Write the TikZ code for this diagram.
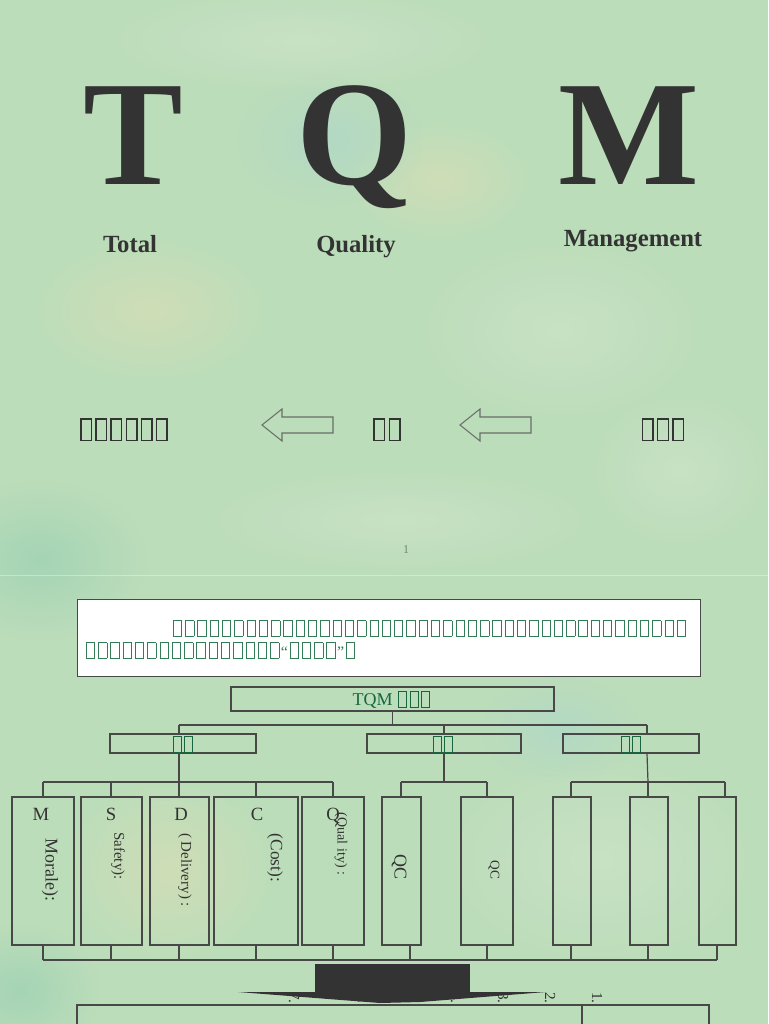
\documentclass[tikz,border=0pt]{standalone}
\usepackage{fontspec}
\setmainfont{Liberation Serif}
\usetikzlibrary{fadings}
\definecolor{bg}{RGB}{188,221,186}
\definecolor{ink}{RGB}{51,51,51}
\definecolor{gline}{RGB}{72,72,72}
\definecolor{gtext}{RGB}{24,102,64}
\definecolor{gtextl}{RGB}{50,125,85}
\definecolor{pnum}{RGB}{100,140,112}
\definecolor{arrowc}{RGB}{105,110,105}
\definecolor{pbeige}{RGB}{222,222,180}
\definecolor{pblue}{RGB}{172,214,206}
\definecolor{plight}{RGB}{210,230,204}
\definecolor{pteal}{RGB}{145,205,178}
\tikzfading[name=softblob, inner color=transparent!45, outer color=transparent!100]
% tofu box: advance, width, height, rule, depth
\newcommand\tofu[5]{\hbox to #1{\hss\lower#5\vbox{\hrule height #4 width #2\hbox to #2{\vrule width #4 height \dimexpr #3-#4*2\relax depth 0pt\hfil\vrule width #4 height \dimexpr #3-#4*2\relax depth 0pt}\hrule height #4 width #2}\hss}}
\newcommand\tA{\tofu{11.3pt}{9pt}{17pt}{1.1pt}{0pt}}
\newcommand\tB{\tofu{9.22pt}{6.9pt}{12.7pt}{0.6pt}{1.4pt}}
\newcommand\tBsix{\tB\tB\tB\tB\tB\tB}
\newcommand\tC{\tofu{8.6pt}{7pt}{12.6pt}{0.8pt}{2.2pt}}
\newcommand\bigfont{\fontsize{112}{112}\selectfont\bfseries}
\begin{document}
\begin{tikzpicture}[x=0.75pt,y=-0.75pt,
  big/.style={font=\bigfont, text=ink, anchor=base, inner sep=0},
  word/.style={font=\fontsize{18.5}{20}\selectfont\bfseries, text=ink, anchor=base, inner sep=0},
  tofurow/.style={text=ink, anchor=base, inner sep=0},
  harrow/.style={draw=arrowc, line width=0.8pt, line join=miter},
  ln/.style={draw=gline, line width=0.9pt},
  obox/.style 2 args={draw=gline, line width=0.9pt, inner sep=0, minimum width=#1*0.75pt, minimum height=#2*0.75pt},
  lbl/.style={text=ink, inner sep=0, font=\fontsize{14}{14}\selectfont, anchor=base},
  vt/.style={rotate=-90, text=ink, inner sep=0, font=\fontsize{#1}{#1}\selectfont},
  num/.style={rotate=-90, text=ink, inner sep=0, anchor=west, font=\fontsize{11.5}{11.5}\selectfont},
  grn/.style={text=gtext, inner sep=0, anchor=base},
  blob/.style={fill=#1, path fading=softblob}
]
\useasboundingbox (0,0) rectangle (768,1024);
% background
\fill[bg] (0,0) rectangle (768,1024);
\fill[blob=pbeige] (150,310) ellipse [x radius=90pt, y radius=55pt];
\fill[blob=pbeige] (440,180) ellipse [x radius=70pt, y radius=45pt];
\fill[blob=pblue] (330,140) ellipse [x radius=70pt, y radius=50pt];
\fill[blob=plight] (560,330) ellipse [x radius=110pt, y radius=70pt];
\fill[blob=plight] (300,40) ellipse [x radius=150pt, y radius=40pt];
\fill[blob=pteal] (40,560) ellipse [x radius=80pt, y radius=60pt];
\fill[blob=plight] (680,470) ellipse [x radius=70pt, y radius=60pt];
\fill[blob=pbeige] (170,870) ellipse [x radius=80pt, y radius=70pt];
\fill[blob=plight] (600,860) ellipse [x radius=120pt, y radius=80pt];
\fill[blob=pblue] (560,730) ellipse [x radius=60pt, y radius=40pt];
\fill[blob=pteal] (20,990) ellipse [x radius=60pt, y radius=50pt];
\fill[blob=plight] (400,520) ellipse [x radius=150pt, y radius=40pt];
\draw[white, opacity=0.35, line width=0.8pt] (0,575.5) -- (768,575.5);

% ---------- slide 1 ----------
\node[big] (T) at (133,184) {T};
\node[big] (Q) at (355,184) {Q};
\node[big] (M) at (629,184) {M};
\node[word] (tot) at (130,252) {Total};
\node[word] (qual) at (356,252) {Quality};
\node[word] (man) at (633,246) {Management};

\node[tofurow] (c1) at (124,441) {\tA\tA\tA\tA\tA\tA};
\node[tofurow] (c2) at (387,441) {\tA\tA};
\node[tofurow] (c3) at (663,441) {\tA\tA\tA};
\draw[harrow] (262,425) -- (282,409) -- (282,417) -- (333,417) -- (333,433) -- (282,433) -- (282,441) -- cycle;
\draw[harrow] (460,425) -- (480,409) -- (480,417) -- (531,417) -- (531,433) -- (480,433) -- (480,441) -- cycle;
\node[text=pnum, inner sep=0, font=\fontsize{9}{9}\selectfont] (pg) at (406,550) {1};

% ---------- slide 2 ----------
\node[draw=gline, line width=0.9pt, fill=white, inner sep=0, anchor=north west,
      minimum width=623*0.75pt, minimum height=77*0.75pt] (intro) at (77,599) {};
\node[grn, text=gtextl, anchor=base west, font=\fontsize{12}{14}\selectfont] (l1) at (171,635)
  {\tBsix\tBsix\tBsix\tBsix\tBsix\tBsix\tBsix};
\node[grn, text=gtextl, anchor=base west, font=\fontsize{12}{14}\selectfont] (l2) at (84,657)
  {\tBsix\tBsix\tB\tB\tB\tB“\tB\tB\tB\tB”\tB};

% org chart level 1
\node[obox={323}{24}] (tqm) at (392.5,699) {};
\node[grn, font=\fontsize{13.5}{14}\selectfont] (tqmt) at (392,705) {TQM \tC\tC\tC};
\node[obox={146}{19}] (A) at (183,743.5) {};
\node[obox={154}{19}] (B) at (444,743.5) {};
\node[obox={136}{19}] (C) at (631,743.5) {};
\node[grn] (At) at (183,750) {\tC\tC};
\node[grn] (Bt) at (443,750) {\tC\tC};
\node[grn] (Ct) at (631,750) {\tC\tC};
\coordinate (b1L) at (179,725);
\coordinate (b1R) at (647,725);
\draw[ln] (tqm.south) -- (tqm.south |- b1L);
\draw[ln] (b1L) -- (b1R);
\draw[ln] (b1L) -- (b1L |- A.north);
\draw[ln] (B.north |- b1L) -- (B.north);
\draw[ln] (b1R) -- (b1R |- C.north);

% level 2 boxes
\node[obox={62}{148}] (bM) at (43,871) {};
\node[obox={61}{148}] (bS) at (111.5,871) {};
\node[obox={59}{148}] (bD) at (179.5,871) {};
\node[obox={84}{148}] (bC) at (256,871) {};
\node[obox={62}{148}] (bQ) at (333,871) {};
\node[obox={39}{148}] (bQC1) at (401.5,871) {};
\node[obox={52}{148}] (bQC2) at (487,871) {};
\node[obox={38}{148}] (bX1) at (572,871) {};
\node[obox={38}{148}] (bX2) at (649,871) {};
\node[obox={37}{148}] (bX3) at (717.5,871) {};

% buses level 2
\coordinate (a1) at (43,782);  \coordinate (a2) at (111,782); \coordinate (a3) at (179,782);
\coordinate (a4) at (256,782); \coordinate (a5) at (333,782);
\coordinate (q1) at (401,782); \coordinate (q2) at (487,782); \coordinate (qm) at (444,782);
\coordinate (x1) at (571,782); \coordinate (x2) at (648,782); \coordinate (x3) at (725,782);
\draw[ln] (a1) -- (a5);
\draw[ln] (q1) -- (q2);
\draw[ln] (x1) -- (x3);
\draw[ln] (b1L |- A.south) -- (a3);
\draw[ln] (B.south) -- (qm);
\draw[ln] (b1R |- C.south) -- (x2);
\foreach \c/\b in {a1/bM,a2/bS,a3/bD,a4/bC,a5/bQ,q1/bQC1,q2/bQC2,x1/bX1,x2/bX2,x3/bX3}
  \draw[ln] (\c) -- (\c |- \b.north);

% bottom bus
\coordinate (d1) at (43,960);  \coordinate (d2) at (111,960); \coordinate (d3) at (179,960);
\coordinate (d4) at (256,960); \coordinate (d5) at (333,960); \coordinate (d6) at (410,960);
\coordinate (d7) at (487,960); \coordinate (d8) at (571,960); \coordinate (d9) at (648,960);
\coordinate (d10) at (717,960);
\draw[ln] (d1) -- (d10);
\foreach \c/\b in {d1/bM,d2/bS,d3/bD,d4/bC,d5/bQ,d6/bQC1,d7/bQC2,d8/bX1,d9/bX2,d10/bX3}
  \draw[ln] (\c |- \b.south) -- (\c);

% labels in boxes
\node[lbl] (lM) at (41,820) {M};
\node[lbl] (lS) at (111,820) {S};
\node[lbl] (lD) at (181,820) {D};
\node[lbl] (lC) at (257,820) {C};
\node[lbl] (lQ) at (333,820) {Q};
\node[vt=13.5] (tM) at (50,870) {Morale):};
\node[vt=11.2] (tS) at (118,856) {Safety):};
\node[vt=11.2] (tD) at (185,870) {( Delivery) :};
\node[vt=13] (tC) at (275,858) {(Cost):};
\node[vt=10.5] (tQ) at (341,844) {(Qual ity) :};
\node[vt=13.5] (tQC1) at (399,867) {QC};
\node[vt=10] (tQC2) at (494,870) {QC};

% black shape
\fill[ink] (315,964) rectangle (470,994);
\fill[ink] (238,992) -- (546,992) -- (420,1002) -- (380,1003) -- cycle;

% numbers at bottom (drawn over the shape, in the same ink)
\node[num] (n7) at (294,992) {7.};
\node[num] (n6) at (363,992) {6.};
\node[num] (n5) at (409,992) {5.};
\node[num] (n4) at (456,992) {4.};
\node[num] (n3) at (503,992) {3.};
\node[num] (n2) at (550,992) {2.};
\node[num] (n1) at (597,992) {1.};

% bottom box
\draw[ln] (77,1030) -- (77,1005) -- (709,1005) -- (709,1030);
\draw[ln] (582,1005) -- (582,1030);
\end{tikzpicture}
\end{document}
